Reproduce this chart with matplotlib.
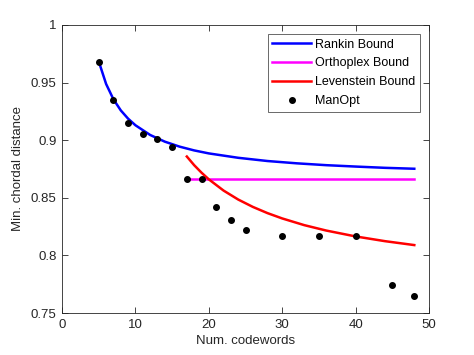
import matplotlib
matplotlib.use("Agg")
import matplotlib.pyplot as plt

plt.rcParams["font.family"] = ["Liberation Sans", "DejaVu Sans"]

# ── Data ──────────────────────────────────────────────────────────────────────
rankin_n = [5, 6, 7, 8, 9, 10, 12, 14, 16, 18, 20, 24, 28, 32, 36, 40, 44, 48]
rankin_d = [0.9682, 0.9487, 0.9354, 0.9258, 0.9186, 0.9129, 0.9045, 0.8987,
            0.8944, 0.8911, 0.8885, 0.8847, 0.8819, 0.8799, 0.8783, 0.8771,
            0.8760, 0.8752]

ortho_n = [17, 48]
ortho_d = [0.8660, 0.8660]

leven_n = [17, 18, 19, 20, 22, 24, 26, 28, 30, 33, 36, 40, 44, 48]
leven_d = [0.8858, 0.8783, 0.8718, 0.8660, 0.8563, 0.8485, 0.8421, 0.8367,
           0.8321, 0.8263, 0.8216, 0.8165, 0.8124, 0.8090]

manopt_n = [5, 7, 9, 11, 13, 15, 17, 19, 21, 23, 25, 30, 35, 40, 45, 48]
manopt_d = [0.968, 0.935, 0.915, 0.905, 0.901, 0.894, 0.866, 0.866,
            0.842, 0.831, 0.822, 0.8165, 0.8165, 0.8165, 0.774, 0.765]

# ── Plot ──────────────────────────────────────────────────────────────────────
fig = plt.figure(figsize=(4.74, 3.55), dpi=100)
ax = fig.add_axes([0.131, 0.118, 0.774, 0.812])

ax.plot(rankin_n, rankin_d, color="#0000ff", lw=1.8, label="Rankin Bound")
ax.plot(ortho_n, ortho_d, color="#ff00ff", lw=1.8, label="Orthoplex Bound")
ax.plot(leven_n, leven_d, color="#ff0000", lw=1.8, label="Levenstein Bound")
ax.plot(manopt_n, manopt_d, "o", color="black", ms=4, label="ManOpt")

ax.set_xlim(0, 50)
ax.set_ylim(0.75, 1.0)
ax.set_xticks([0, 10, 20, 30, 40, 50])
ax.set_yticks([0.75, 0.8, 0.85, 0.9, 0.95, 1.0])
ax.set_yticklabels(["0.75", "0.8", "0.85", "0.9", "0.95", "1"])
ax.set_xlabel("Num. codewords", fontsize=9.5, color="#262626", labelpad=3)
ax.set_ylabel("Min. chordal distance", fontsize=9.5, color="#262626", labelpad=5)

ax.tick_params(direction="in", top=True, right=True, labelsize=9.5,
               colors="#262626", length=4, width=0.6, pad=4)
for sp in ax.spines.values():
    sp.set_color("#262626")
    sp.set_linewidth(0.6)

leg = ax.legend(loc="upper right", prop={"size": 9}, frameon=True, fancybox=False,
                edgecolor="#262626", handlelength=3.1, handletextpad=0.3,
                labelspacing=0.55, borderpad=0.35, borderaxespad=0.75)
leg.get_frame().set_linewidth(0.6)

plt.savefig("out.png", dpi=100)
plt.close()
